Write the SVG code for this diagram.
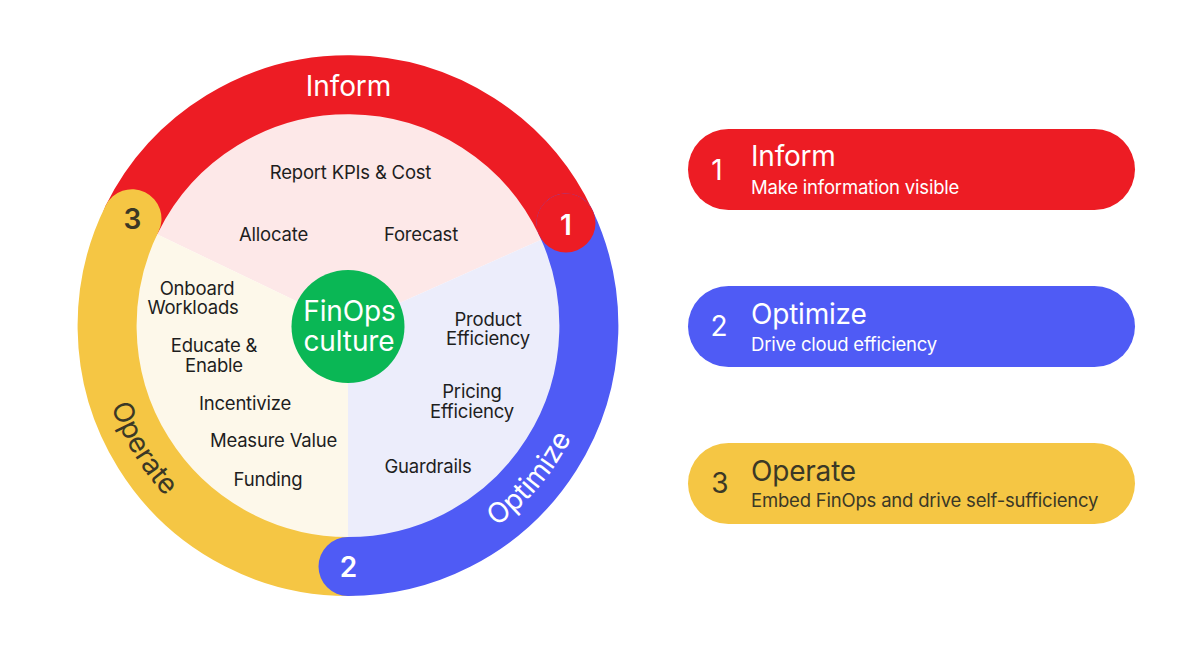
<svg xmlns="http://www.w3.org/2000/svg" width="1200" height="652" viewBox="0 0 1200 652">
<style>
text{font-family:Inter,"Noto Sans","Liberation Sans",sans-serif}
.t{font-size:18.500px;letter-spacing:-.2px;fill:#1e1e1e;text-anchor:middle}
.arc{fill:none;stroke-width:59;stroke-linecap:round}
.h{font-size:28px;letter-spacing:-.2px}
.s{font-size:18.500px;letter-spacing:-.2px}
.n{font-size:28px;text-anchor:middle}
.w{fill:#fff}
.d{fill:#3b3826}
.big{font-size:28px;letter-spacing:-.1px;text-anchor:middle}
.num{font-size:28px;font-weight:600;text-anchor:middle}
</style>
<defs>
<path id="lowerArc" d="M98 325.500A250 250 0 0 0 598 325.500"/>
</defs>
<rect width="1200" height="652" fill="#fff"/>
<g id="wheel">
<path d="M348 326L144 228A226 226 0 0 1 554 234Z" fill="#fde8e8"/>
<path d="M348 326L554 234A226 226 0 0 1 348 552Z" fill="#ecedfb"/>
<path d="M348 326L348 552A226 226 0 0 1 144 228Z" fill="#fdf8ea"/>
<path class="arc" stroke="#ed1c24" d="M132 218.800A241 241 0 0 1 566 223"/>
<path class="arc" stroke="#f5c644" d="M348 566.500A241 241 0 0 1 132 218.800"/>
<path class="arc" stroke="#4f5bf5" d="M566 223A241 241 0 0 1 348 566.500"/>
<circle cx="566" cy="223" r="29.500" fill="#ed1c24"/>
</g>
<g id="ring-labels">
<text class="big w" x="348.500" y="96">Inform</text>
<text class="num w" x="566" y="235">1</text>
<text class="num w" x="348.500" y="577">2</text>
<text class="num d" x="132.500" y="229">3</text>
<text font-size="28" fill="#3b3826" text-anchor="middle"><textPath href="#lowerArc" startOffset="135">Operate</textPath></text>
<text font-size="28" fill="#fff" text-anchor="middle"><textPath href="#lowerArc" startOffset="610">Optimize</textPath></text>
</g>
<g id="inform-items">
<text class="t" x="350.500" y="179">Report KPIs &amp; Cost</text>
<text class="t" x="273.500" y="241">Allocate</text>
<text class="t" x="421" y="241">Forecast</text>
</g>
<g id="optimize-items">
<text class="t" x="488" y="326">Product</text>
<text class="t" x="488" y="345">Efficiency</text>
<text class="t" x="472" y="398">Pricing</text>
<text class="t" x="472" y="418">Efficiency</text>
<text class="t" x="428" y="473">Guardrails</text>
</g>
<g id="operate-items">
<text class="t" x="197" y="295">Onboard</text>
<text class="t" x="193" y="314">Workloads</text>
<text class="t" x="214" y="352">Educate &amp;</text>
<text class="t" x="214" y="372">Enable</text>
<text class="t" x="245" y="410">Incentivize</text>
<text class="t" x="273.500" y="447">Measure Value</text>
<text class="t" x="268" y="486">Funding</text>
</g>
<g id="culture">
<circle cx="348" cy="326.500" r="56.500" fill="#0ab755"/>
<text class="big w" x="349.500" y="321">FinOps</text>
<text class="big w" x="349" y="351">culture</text>
</g>
<g id="legend-inform">
<rect x="688" y="129" width="447" height="81" rx="40.500" fill="#ed1c24"/>
<text class="n w" x="717" y="180">1</text>
<text class="h w" x="751" y="166">Inform</text>
<text class="s w" x="751" y="194">Make information visible</text>
</g>
<g id="legend-optimize">
<rect x="688" y="286" width="447" height="81" rx="40.500" fill="#4f5bf5"/>
<text class="n w" x="719" y="336">2</text>
<text class="h w" x="751" y="324">Optimize</text>
<text class="s w" x="751" y="351">Drive cloud efficiency</text>
</g>
<g id="legend-operate">
<rect x="688" y="443" width="447" height="81" rx="40.500" fill="#f5c644"/>
<text class="n d" x="720" y="493">3</text>
<text class="h d" x="751" y="481">Operate</text>
<text class="s d" x="751" y="507">Embed FinOps and drive self-sufficiency</text>
</g>
</svg>
